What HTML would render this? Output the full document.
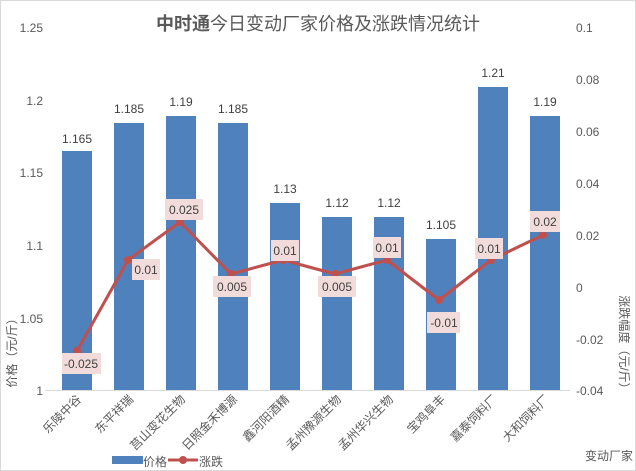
<!DOCTYPE html>
<html><head><meta charset="utf-8"><style>
body{margin:0;background:#fff}
svg{display:block;font-family:"Liberation Sans","Noto Sans CJK SC",sans-serif}
</style></head><body>
<svg width="636" height="471" viewBox="0 0 636 471" xmlns="http://www.w3.org/2000/svg">
<rect x="0.5" y="0.5" width="635" height="470" fill="#fff" stroke="#d9d9d9"/>
<text x="318" y="30" text-anchor="middle" font-size="18" fill="#595959"><tspan font-weight="bold">中时通</tspan>今日变动厂家价格及涨跌情况统计</text>
<g font-size="12" fill="#595959" text-anchor="end">
<text x="43" y="32">1.25</text><text x="43" y="105">1.2</text><text x="43" y="177">1.15</text>
<text x="43" y="250">1.1</text><text x="43" y="323">1.05</text><text x="43" y="395">1</text>
</g>
<g font-size="12" fill="#595959">
<text x="576" y="32">0.1</text><text x="576" y="84">0.08</text><text x="576" y="136">0.06</text>
<text x="576" y="188">0.04</text><text x="576" y="240">0.02</text><text x="576" y="292">0</text>
<text x="576" y="344">-0.02</text><text x="576" y="395">-0.04</text>
</g>
<text transform="translate(16,350) rotate(-90)" text-anchor="middle" font-size="12" fill="#595959">价格（元/斤）</text>
<text transform="translate(620,345) rotate(90)" text-anchor="middle" font-size="12" fill="#595959">涨跌幅度（元/斤）</text>
<g fill="#4f81bd">
<rect x="62" y="151" width="30" height="239"/>
<rect x="114" y="123" width="30" height="267"/>
<rect x="166" y="116" width="30" height="274"/>
<rect x="218" y="123" width="30" height="267"/>
<rect x="270" y="203" width="30" height="187"/>
<rect x="322" y="217" width="30" height="173"/>
<rect x="374" y="217" width="30" height="173"/>
<rect x="426" y="239" width="30" height="151"/>
<rect x="478" y="87" width="30" height="303"/>
<rect x="530" y="116" width="30" height="274"/>
</g>
<line x1="45" y1="390.5" x2="570" y2="390.5" stroke="#d9d9d9"/>
<g font-size="12" fill="#404040" text-anchor="middle">
<text x="77" y="143">1.165</text><text x="129" y="113">1.185</text><text x="181" y="106">1.19</text>
<text x="233" y="113">1.185</text><text x="285" y="193">1.13</text><text x="337" y="207">1.12</text>
<text x="389" y="207">1.12</text><text x="441" y="229">1.105</text><text x="493" y="77">1.21</text>
<text x="545" y="106">1.19</text>
</g>
<polyline fill="none" stroke="#c0504d" stroke-width="3" stroke-linejoin="round" points="77,351 128,260 180,222 231,274 283,260 335,274 387,260 439,300 491,260 543,235"/>
<g fill="#c0504d">
<circle cx="77" cy="351" r="4"/><circle cx="128" cy="260" r="4"/><circle cx="180" cy="222" r="4"/>
<circle cx="231" cy="274" r="4"/><circle cx="283" cy="260" r="4"/><circle cx="335" cy="274" r="4"/>
<circle cx="387" cy="260" r="4"/><circle cx="439" cy="300" r="4"/><circle cx="491" cy="260" r="4"/>
<circle cx="543" cy="235" r="4"/>
</g>
<g fill="#f2dcdb">
<rect x="62" y="353" width="39" height="21"/><rect x="132" y="259" width="28" height="21"/>
<rect x="165" y="199" width="38" height="21"/><rect x="213" y="276" width="38" height="21"/>
<rect x="271" y="240" width="28" height="21"/><rect x="318" y="276" width="38" height="21"/>
<rect x="373" y="237" width="28" height="21"/><rect x="427" y="312" width="33" height="21"/>
<rect x="475" y="238" width="28" height="21"/><rect x="530" y="211" width="30" height="21"/>
</g>
<g font-size="12" fill="#404040" text-anchor="middle">
<text x="81" y="368">-0.025</text><text x="146" y="274">0.01</text><text x="184" y="214">0.025</text>
<text x="232" y="291">0.005</text><text x="285" y="255">0.01</text><text x="337" y="291">0.005</text>
<text x="387" y="252">0.01</text><text x="444" y="327">-0.01</text><text x="489" y="253">0.01</text>
<text x="545" y="226">0.02</text>
</g>
<g font-size="12" fill="#595959" text-anchor="end">
<text transform="translate(82,400) rotate(-45)">乐陵中谷</text>
<text transform="translate(134,400) rotate(-45)">东平祥瑞</text>
<text transform="translate(186,400) rotate(-45)">莒山变花生物</text>
<text transform="translate(238,400) rotate(-45)">日照金禾博源</text>
<text transform="translate(290,400) rotate(-45)">鑫河阳酒精</text>
<text transform="translate(342,400) rotate(-45)">孟州豫源生物</text>
<text transform="translate(394,400) rotate(-45)">孟州华兴生物</text>
<text transform="translate(446,400) rotate(-45)">宝鸡阜丰</text>
<text transform="translate(498,400) rotate(-45)">嘉泰饲料厂</text>
<text transform="translate(550,400) rotate(-45)">大和饲料厂</text>
</g>
<text x="585" y="460" font-size="12" fill="#595959">变动厂家</text>
<rect x="112" y="456" width="31" height="8" fill="#4f81bd"/>
<text x="143" y="466" font-size="12" fill="#595959">价格</text>
<line x1="168" y1="460" x2="198" y2="460" stroke="#c0504d" stroke-width="3"/>
<circle cx="183" cy="460" r="4" fill="#c0504d"/>
<text x="199" y="466" font-size="12" fill="#595959">涨跌</text>
</svg>
</body></html>
